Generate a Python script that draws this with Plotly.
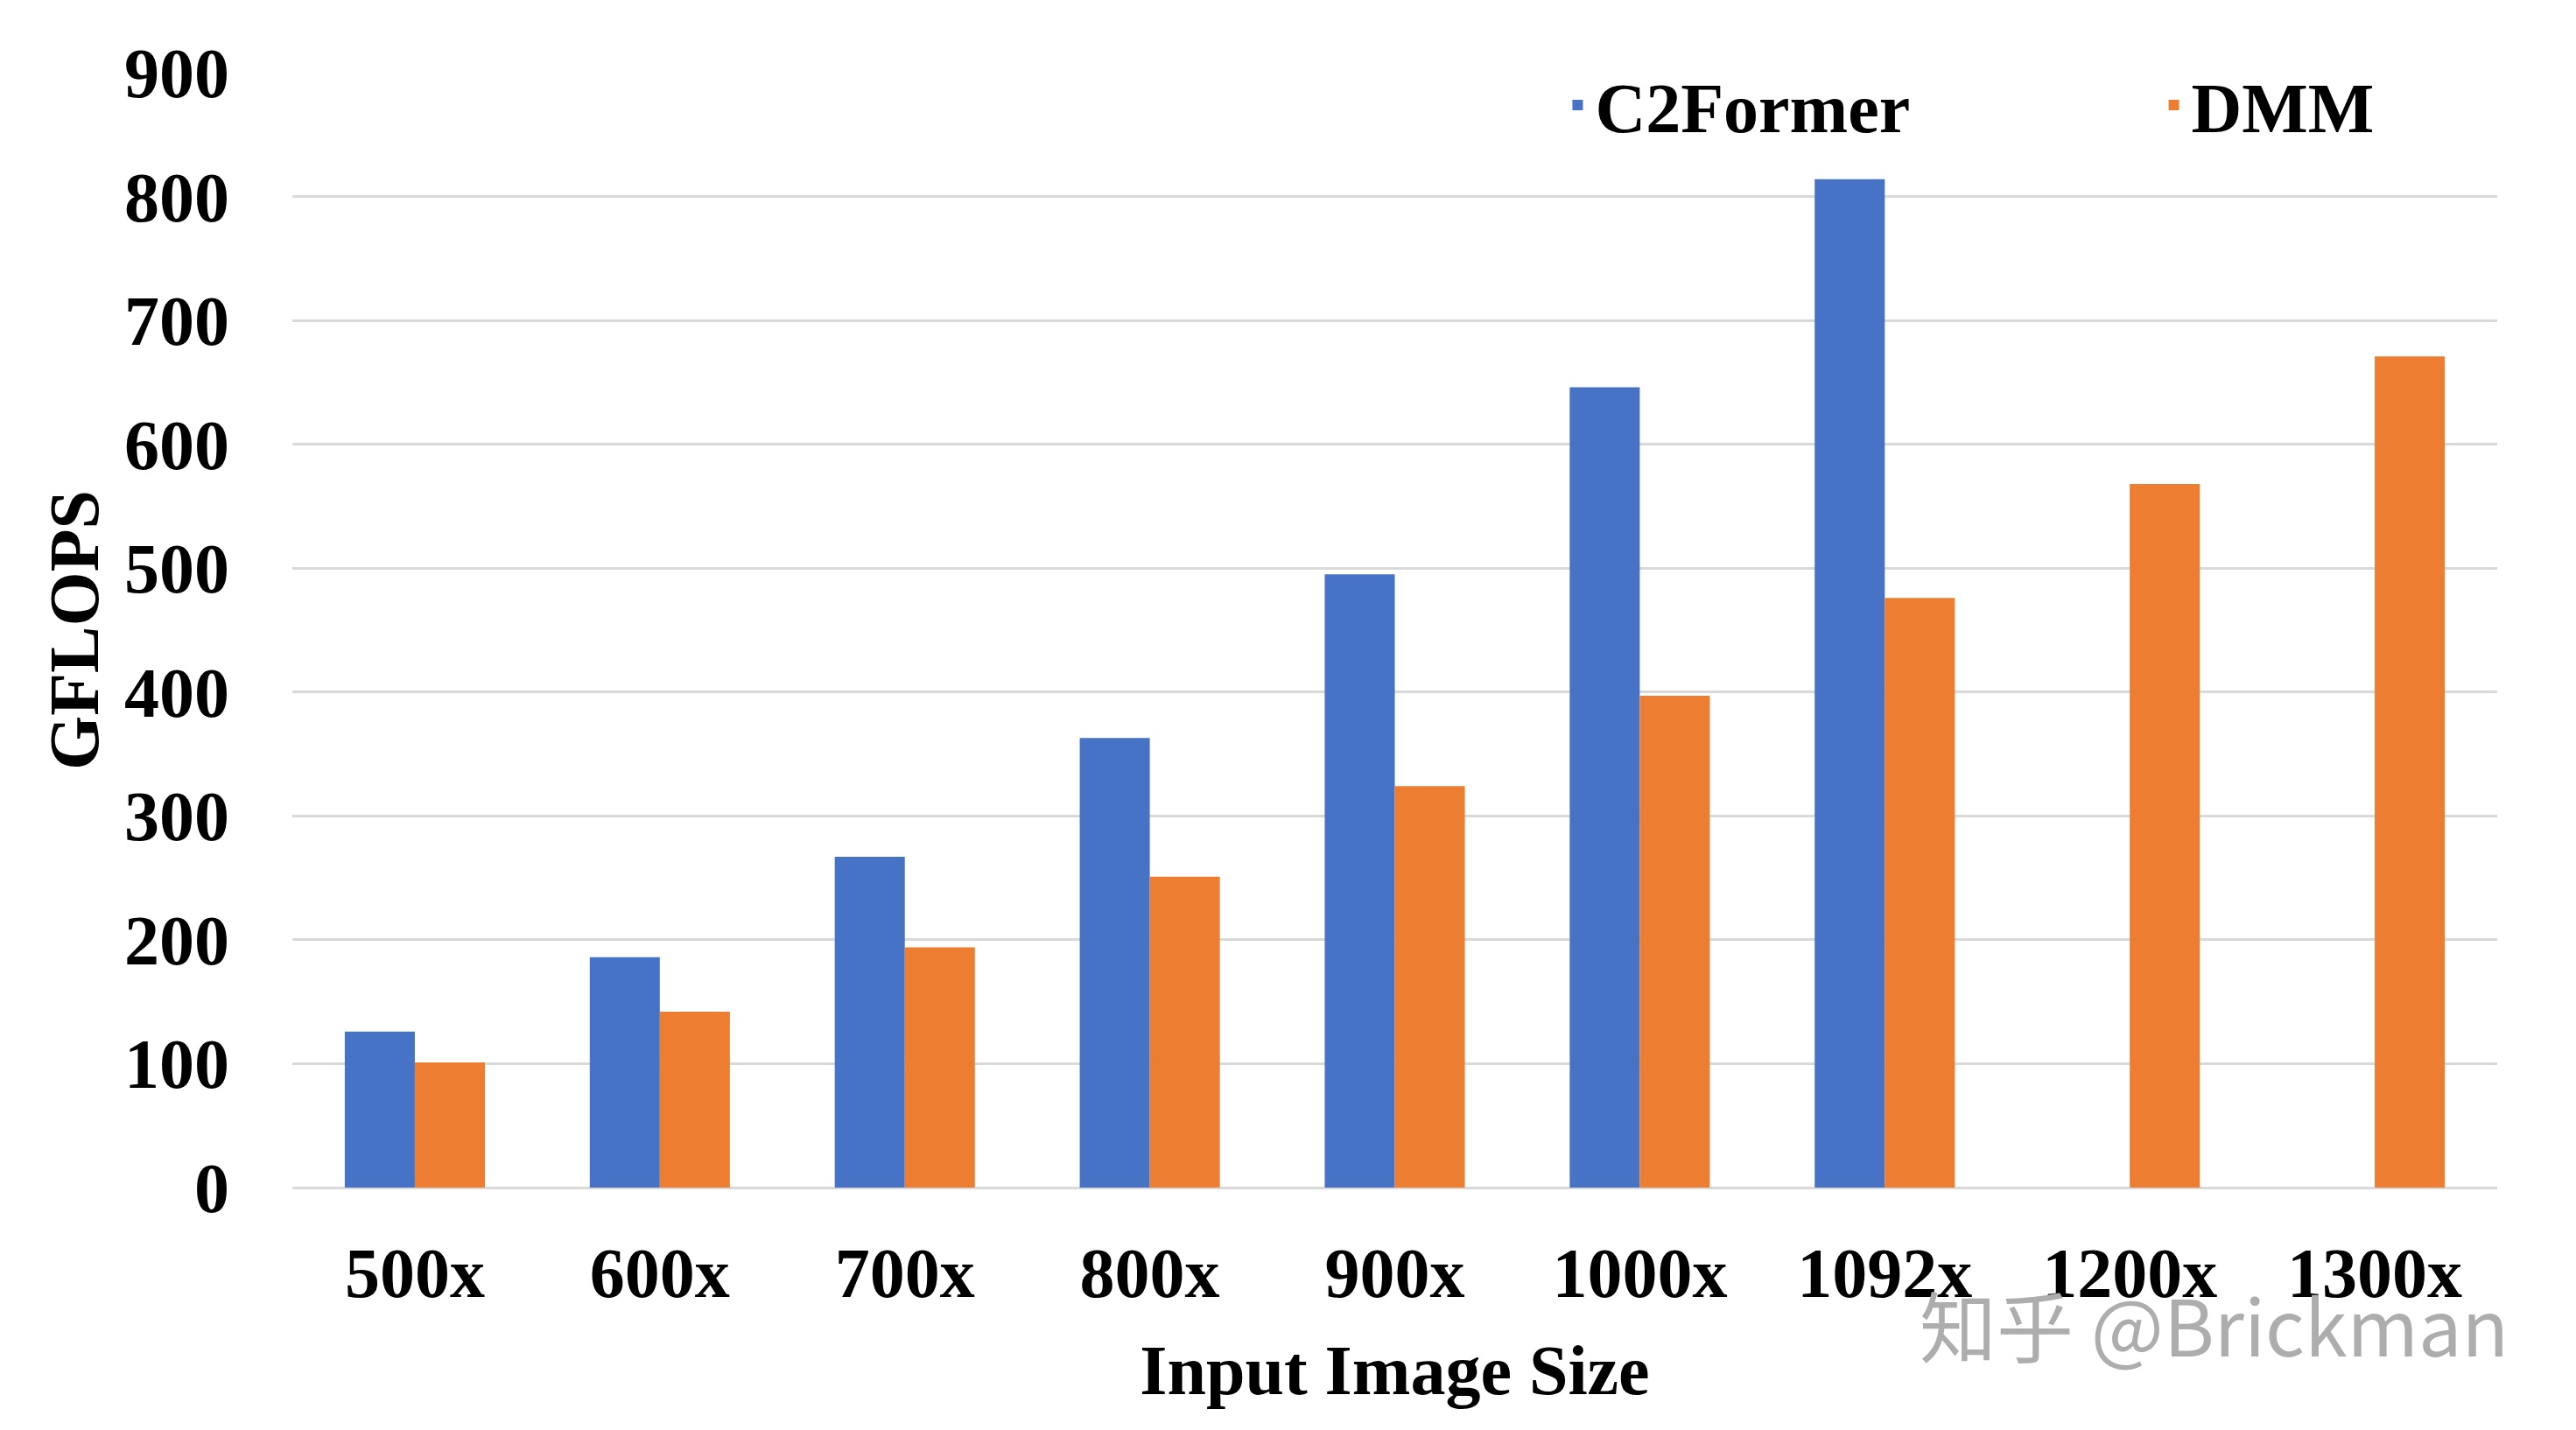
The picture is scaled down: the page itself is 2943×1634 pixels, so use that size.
import plotly.graph_objects as go

categories = ["500x", "600x", "700x", "800x", "900x", "1000x", "1092x", "1200x", "1300x"]
c2former = [126, 186, 267, 363, 495, 646, 814, None, None]
dmm = [101, 142, 194, 251, 324, 397, 476, 568, 671]
y_ticks = [0, 100, 200, 300, 400, 500, 600, 700, 800, 900]

FONT = "Liberation Serif"
BLUE = "#4673c6"
ORANGE = "#ed7d31"

fig = go.Figure()
fig.add_trace(go.Bar(x=categories, y=c2former, name="C2Former", legend="legend",
                     showlegend=True,
                     marker=dict(color=BLUE, line=dict(width=0))))
fig.add_trace(go.Bar(x=categories, y=dmm, name="DMM", legend="legend2",
                     showlegend=True,
                     marker=dict(color=ORANGE, line=dict(width=0))))

legend_style = dict(orientation="h", yanchor="middle", xanchor="left", y=0.971,
                    font=dict(family=FONT, size=80, color="black", weight="bold"),
                    bgcolor="rgba(0,0,0,0)")

fig.update_layout(
    width=2935, height=1626,
    margin=dict(l=326, r=90, t=75, b=277),
    paper_bgcolor="white", plot_bgcolor="white",
    showlegend=True,
    barmode="group", bargap=0.428, bargroupgap=0,
    font=dict(family=FONT, size=80, color="black"),
    legend=dict(legend_style, x=0.575),
    legend2=dict(legend_style, x=0.8454),
    xaxis=dict(
        tickfont=dict(family=FONT, size=80, weight="bold"),
        showgrid=False, showline=False, ticks="",
        ticklabelstandoff=44,
        title=dict(text="Input Image Size", font=dict(family=FONT, size=80, weight="bold"),
                   standoff=38),
    ),
    yaxis=dict(
        range=[0, 900], tickvals=y_ticks,
        tickfont=dict(family=FONT, size=80, weight="bold"),
        showgrid=True, gridcolor="#d9d9d9", gridwidth=3,
        zeroline=True, zerolinecolor="#d9d9d9", zerolinewidth=3,
        showline=False, ticks="", ticklabelstandoff=71,
        title=dict(text="GFLOPS", font=dict(family=FONT, size=80, weight="bold"),
                   standoff=3),
    ),
    annotations=[dict(
        text="知乎 @Brickman", xref="paper", yref="paper",
        x=1.006, y=-0.1215, xanchor="right", yanchor="middle", showarrow=False,
        font=dict(family="Noto Sans CJK SC", size=88, color="#adadad"),
    )],
)

fig.write_html("out.html")
